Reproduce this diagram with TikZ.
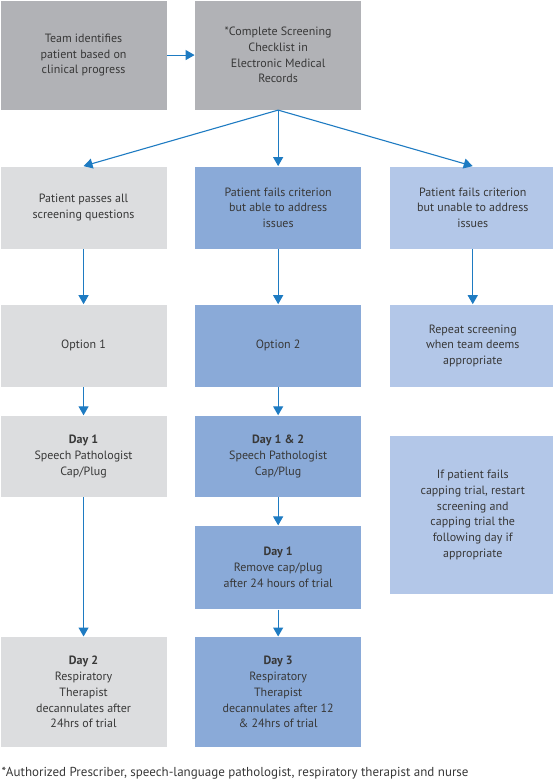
\documentclass[tikz,border=0pt]{standalone}
\usepackage{fontspec}
\setmainfont{PT Sans}
\usetikzlibrary{arrows.meta, positioning}

\definecolor{darkgrey}{HTML}{B1B2B6}
\definecolor{lightgrey}{HTML}{DCDDDF}
\definecolor{midblue}{HTML}{8AAAD8}
\definecolor{paleblue}{HTML}{B3C7E8}
\definecolor{arrowblue}{HTML}{1E7BC2}
\definecolor{textgrey}{HTML}{383838}

\begin{document}
\begin{tikzpicture}
            [->, >={Triangle[length=9pt,width=10pt]}, node distance=27.5pt,
            arrowblue, line width=1.1pt,
            stage/.style={rectangle, align=center, text=textgrey, inner sep=0pt,
                minimum width=166pt, font=\fontsize{12}{15.8}\selectfont},
            darkbox/.style={stage, fill=darkgrey},
            greybox/.style={stage, fill=lightgrey},
            bluebox/.style={stage, fill=midblue},
            palebox/.style={stage, fill=paleblue}]

            \useasboundingbox (0,0) rectangle (553pt,-780pt);

            \node[darkbox,minimum height=109pt,anchor=north west] (team) at (0,0) {Team identifies\\patient based on\\clinical progress};
            \node[darkbox,minimum height=109pt] (screen) [right = of team] {*Complete Screening\\Checklist in\\Electronic Medical\\Records};

            \node[greybox,minimum height=82pt] (pass) [below = 56pt of team] {Patient passes all\\screening questions};
            \node[bluebox,minimum height=82pt] (able) [below = 56pt of screen] {Patient fails criterion\\but able to address\\issues};
            \node[palebox,minimum height=82pt] (unable) [right = of able] {Patient fails criterion\\but unable to address\\issues};

            \node[greybox,minimum height=82pt] (option1) [below = 55pt of pass] {Option 1};
            \node[bluebox,minimum height=82pt] (option2) [below = 55pt of able] {Option 2};
            \node[palebox,minimum height=82pt] (repeat) [below = 55pt of unable] {Repeat screening\\when team deems\\appropriate};

            \node[greybox,minimum height=81pt] (day1) [below = 28pt of option1] {\textbf{Day 1}\\Speech Pathologist\\Cap/Plug};
            \node[bluebox,minimum height=81pt] (dayboth) [below = 28pt of option2] {\textbf{Day 1 \& 2}\\Speech Pathologist\\Cap/Plug};
            \node[palebox,minimum height=158pt] (fails) [below = 48pt of repeat] {If patient fails\\capping trial, restart\\screening and\\capping trial the\\following day if\\appropriate};

            \node[bluebox,minimum height=83pt] (remove) [below = 28pt of dayboth] {\textbf{Day 1}\\Remove cap/plug\\after 24 hours of trial};
            \node[bluebox,minimum height=110pt] (day3) [below = 27pt of remove] {\textbf{Day 3}\\Respiratory\\Therapist\\decannulates after 12\\\& 24hrs of trial};
            \node[greybox,minimum height=110pt] (day2) [left = of day3] {\textbf{Day 2}\\Respiratory\\Therapist\\decannulates after\\24hrs of trial};

            \node[text=textgrey,inner sep=0pt,anchor=base west,font=\fontsize{13}{16}\selectfont] (note) at (1pt,-776pt)
                {*Authorized Prescriber, speech-language pathologist, respiratory therapist and nurse};

            \draw (team) -- (screen);
            \draw (screen.south) -- (pass.north);
            \draw (screen.south) -- (able.north);
            \draw (screen.south) -- (unable.north);
            \draw (pass) -- (option1);
            \draw (able) -- (option2);
            \draw (unable) -- (repeat);
            \draw (option1) -- (day1);
            \draw (day1) -- (day2);
            \draw (option2) -- (dayboth);
            \draw (dayboth) -- (remove);
            \draw (remove) -- (day3);

        \end{tikzpicture}
\end{document}
